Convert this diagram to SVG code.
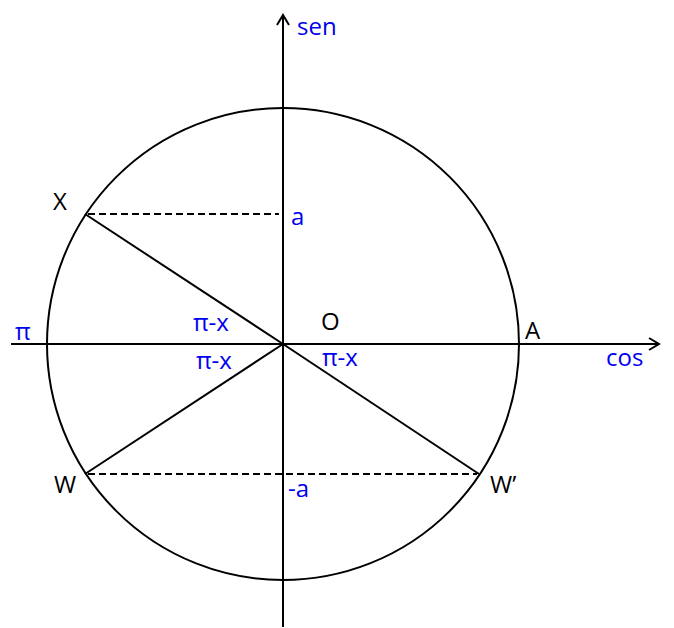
<svg xmlns="http://www.w3.org/2000/svg" width="674" height="628" viewBox="0 0 674 628">
<style>
.ln{stroke:#000;stroke-width:2;fill:none}
.ds{stroke:#000;stroke-width:2;fill:none;stroke-dasharray:7 4}
.t{font-family:"Open Sans","DejaVu Sans",sans-serif;font-size:24px;fill:#000}
.b{font-family:"Open Sans","DejaVu Sans",sans-serif;font-size:24px;fill:#0000ee}
</style>
<defs>
<marker id="arr" markerWidth="14" markerHeight="14" refX="12" refY="7" orient="auto" markerUnits="userSpaceOnUse">
<path d="M2,1 L12,7 L2,13" fill="none" stroke="#000" stroke-width="2"/>
</marker>
</defs>
<rect width="674" height="628" fill="#fff"/>
<g id="circle"><circle cx="283" cy="344" r="236" class="ln"/></g>
<g id="connectors">
<line x1="11" y1="344" x2="659" y2="344" class="ln" marker-end="url(#arr)"/>
<line x1="283" y1="627" x2="283" y2="15" class="ln" marker-end="url(#arr)"/>
<line x1="85" y1="214" x2="283" y2="344" class="ln"/>
<line x1="85" y1="474" x2="283" y2="344" class="ln"/>
<line x1="479" y1="474" x2="283" y2="344" class="ln"/>
<line x1="88" y1="214" x2="279" y2="214" class="ds"/>
<line x1="88" y1="474" x2="477" y2="474" class="ds"/>
</g>
<g id="labels">
<text class="b" x="297" y="35">sen</text>
<text class="t" x="53" y="210">X</text>
<text class="b" x="291" y="225">a</text>
<text class="b" x="15" y="340">π</text>
<text class="b" x="193" y="331">π-x</text>
<text class="t" x="321" y="330">O</text>
<text class="t" x="525" y="339">A</text>
<text class="b" x="606" y="366">cos</text>
<text class="b" x="196" y="369">π-x</text>
<text class="b" x="322" y="366">π-x</text>
<text class="t" x="54" y="493">W</text>
<text class="b" x="288" y="497">-a</text>
<text class="t" x="490" y="493">W’</text>
</g>
</svg>
